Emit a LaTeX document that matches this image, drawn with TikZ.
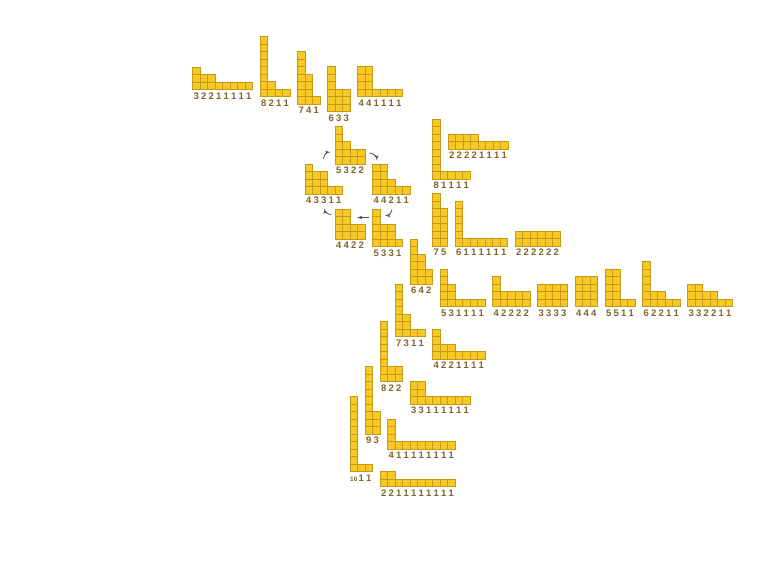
\documentclass[tikz,border=0pt]{standalone}
\usepackage{fontspec}
\setmainfont{Liberation Sans}
\usepackage{xcolor}
\usepackage{tikz}
\usetikzlibrary{arrows, positioning}

\definecolor{cellfill}{HTML}{F8C925}
\definecolor{cellline}{HTML}{C49A18}
\definecolor{labtext}{HTML}{806328}
\definecolor{cycline}{HTML}{4D4D4D}

% one partition: name, x, y of bottom left corner, column heights
\newcommand{\ydiag}[4]{%
	\foreach \p [count=\i from 0] in {#4} {
		\foreach \j in {1,...,\p}
			\path [cell] (#2+\i*7.5, #3-\j*7.5) rectangle ++(7.5,7.5);
		\node [lab] (#1-\i) at (#2+\i*7.5+3.75, #3+9.6) {\ifnum\p>9 {\fontsize{6.5pt}{7pt}\selectfont\p}\else\p\fi};
	}
}

\begin{document}
\begin{tikzpicture}[x=1pt, y=-1pt,
		cell/.style={draw=cellline, fill=cellfill, line width=0.65pt},
		lab/.style={anchor=base, inner sep=0pt, text=labtext, font=\fontsize{9.5pt}{10pt}\selectfont\bfseries},
		cyc/.style={draw=cycline, -latex', line width=0.8pt}]
	\useasboundingbox (0,0) rectangle (768,576);
	% top row
	\ydiag{d32211111}{192.5}{89.5}{3,2,2,1,1,1,1,1}
	\ydiag{d8211}{260}{96.5}{8,2,1,1}
	\ydiag{d741}{297.5}{104}{7,4,1}
	\ydiag{d633}{327.5}{111.5}{6,3,3}
	\ydiag{d441111}{357.5}{96.5}{4,4,1,1,1,1}
	% cycle
	\ydiag{d5322}{335}{164}{5,3,2,2}
	\ydiag{d44211}{372.5}{194}{4,4,2,1,1}
	\ydiag{d43311}{305}{194}{4,3,3,1,1}
	\ydiag{d4422}{335}{239}{4,4,2,2}
	\ydiag{d5331}{372.5}{246.5}{5,3,3,1}
	% right of cycle
	\ydiag{d81111}{432.5}{179}{8,1,1,1,1}
	\ydiag{d22221111}{448}{149}{2,2,2,2,1,1,1,1}
	\ydiag{d75}{432.5}{246}{7,5}
	\ydiag{d6111111}{455}{246}{6,1,1,1,1,1,1}
	\ydiag{d222222}{515}{246}{2,2,2,2,2,2}
	% middle row
	\ydiag{d642}{410}{284}{6,4,2}
	\ydiag{d531111}{440}{306.5}{5,3,1,1,1,1}
	\ydiag{d42222}{492.5}{306.5}{4,2,2,2,2}
	\ydiag{d3333}{537.5}{306.5}{3,3,3,3}
	\ydiag{d444}{575}{306.5}{4,4,4}
	\ydiag{d5511}{605}{306.5}{5,5,1,1}
	\ydiag{d62211}{642.5}{306.5}{6,2,2,1,1}
	\ydiag{d332211}{687.5}{306.5}{3,3,2,2,1,1}
	% lower part
	\ydiag{d7311}{395}{336.5}{7,3,1,1}
	\ydiag{d4221111}{432.5}{359}{4,2,2,1,1,1,1}
	\ydiag{d822}{380}{381.5}{8,2,2}
	\ydiag{d33111111}{410}{404}{3,3,1,1,1,1,1,1}
	\ydiag{d93}{365}{434}{9,3}
	\ydiag{d411111111}{387.5}{449}{4,1,1,1,1,1,1,1,1}
	\ydiag{d1011}{350}{471.5}{10,1,1}
	\ydiag{d2211111111}{380}{486.5}{2,2,1,1,1,1,1,1,1,1}
	% arrows of the cycle
	\coordinate (ca) at (323.5,159);
	\coordinate (cb) at (330.5,152);
	\coordinate (cc) at (369.5,153);
	\coordinate (cd) at (377,160.5);
	\coordinate (ce) at (392,209.5);
	\coordinate (cf) at (385,215.5);
	\coordinate (cg) at (368.5,217.5);
	\coordinate (ch) at (357,217.5);
	\coordinate (ci) at (331.5,214.5);
	\coordinate (cj) at (324.5,208.5);
	\path [cyc] (ca) to [bend left=40] (cb);
	\path [cyc] (cc) to [bend left=40] (cd);
	\path [cyc] (ce) to [bend left=40] (cf);
	\path [cyc] (cg) -- (ch);
	\path [cyc] (ci) to [bend left=40] (cj);
\end{tikzpicture}
\end{document}
